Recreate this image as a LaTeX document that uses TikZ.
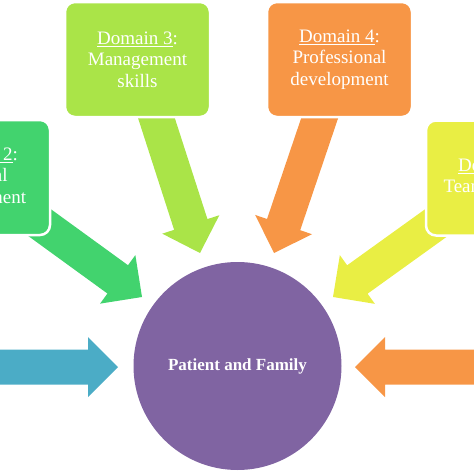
\documentclass[tikz,border=0pt]{standalone}
\usepackage{fontspec}
\setmainfont{Liberation Serif}
\usetikzlibrary{
  calc,
  positioning
}
\pgfdeclarelayer{shafts}
\pgfsetlayers{shafts,main}

\definecolor{blueone}{RGB}{75,172,198}
\definecolor{greentwo}{RGB}{66,211,110}
\definecolor{limethree}{RGB}{170,228,72}
\definecolor{orangefour}{RGB}{247,150,70}
\definecolor{yellowfive}{RGB}{233,238,68}
\definecolor{purplepf}{RGB}{128,100,162}

\tikzset{
  domainbox/.style={rectangle, rounded corners=10pt, draw=white, line width=2.5pt,
    minimum width=145pt, minimum height=115pt, text=white, align=center,
    font=\fontsize{19}{21.5}\selectfont}
}

% block arrow: colour, start, tip
\newcommand{\blockarrow}[3]{%
  \coordinate (hb) at ($(#3)!30pt!(#2)$);
  \fill[#1] ($(#2)!17.5pt!90:(#3)$) -- ($(hb)!17.5pt!90:(#3)$)
    -- ($(hb)!30pt!90:(#3)$) -- (#3) -- ($(hb)!30pt!-90:(#3)$)
    -- ($(hb)!17.5pt!-90:(#3)$) -- ($(#2)!17.5pt!-90:(#3)$) -- cycle;}

\begin{document}
\begin{tikzpicture}[x=1pt,y=-1pt]
  \useasboundingbox (0,0) rectangle (474,474);
  \clip (0,0) rectangle (474,474);

  % centre
  \node[circle, fill=purplepf, minimum size=208pt, inner sep=0pt, text=white,
        font=\fontsize{17}{20}\selectfont\bfseries] (pf) at (237.5,366) {Patient and Family};

  % domains
  \node[domainbox, fill=greentwo] (d2) at (-22.5,177.5)
    {\underline{Domain 2}:\\Clinical\\management};
  \node[domainbox, fill=limethree] (d3) at (137.5,59.5)
    {\underline{Domain 3}:\\Management\\skills};
  \node[domainbox, fill=orangefour] (d4) at (339.5,59.5)
    {\underline{Domain 4}:\\Professional\\development};
  \node[domainbox, fill=yellowfive] (d5) at (498.5,178)
    {\underline{Domain 5}:\\Team working};

  % arrow tips
  \coordinate (s1) at (-20,367);
  \coordinate (t1) at (118,367);
  \coordinate (t2) at (142,297);
  \coordinate (t3) at (200,253);
  \coordinate (t4) at (274,253);
  \coordinate (t5) at (333,297);
  \coordinate (t6) at (355,367);
  \coordinate (s6) at (494,367);

  \begin{pgfonlayer}{shafts}
    \blockarrow{blueone}{s1}{t1}
    \blockarrow{greentwo}{d2.center}{t2}
    \blockarrow{limethree}{d3.center}{t3}
    \blockarrow{orangefour}{d4.center}{t4}
    \blockarrow{yellowfive}{d5.center}{t5}
    \blockarrow{orangefour}{s6}{t6}
  \end{pgfonlayer}
\end{tikzpicture}
\end{document}
